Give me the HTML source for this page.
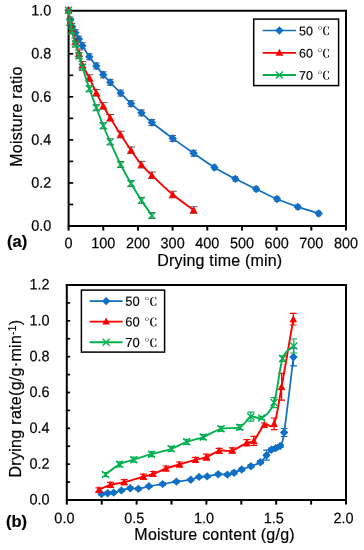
<!DOCTYPE html>
<html><head><meta charset="utf-8"><title>Drying curves</title>
<style>html,body{margin:0;padding:0;background:#fff}svg{display:block}</style>
</head><body>
<svg width="364" height="550" viewBox="0 0 364 550">
<rect width="364" height="550" fill="#fff"/>
<g stroke="#000" stroke-width="2" fill="none">
<path d="M67.60 10.70 H346.00 V230.60"/>
<path d="M68.60 9.70 V226.00 H346.00"/>
</g>
<g stroke="#000" stroke-width="1.7" fill="none">
<path d="M68.60 204.47 h4.6"/>
<path d="M68.60 182.94 h4.6"/>
<path d="M68.60 161.41 h4.6"/>
<path d="M68.60 139.88 h4.6"/>
<path d="M68.60 118.35 h4.6"/>
<path d="M68.60 96.82 h4.6"/>
<path d="M68.60 75.29 h4.6"/>
<path d="M68.60 53.76 h4.6"/>
<path d="M68.60 32.23 h4.6"/>
<path d="M68.60 226.00 v4.6" stroke-width="2"/>
<path d="M103.27 226.00 v4.6" stroke-width="2"/>
<path d="M137.95 226.00 v4.6" stroke-width="2"/>
<path d="M172.62 226.00 v4.6" stroke-width="2"/>
<path d="M207.30 226.00 v4.6" stroke-width="2"/>
<path d="M241.97 226.00 v4.6" stroke-width="2"/>
<path d="M276.65 226.00 v4.6" stroke-width="2"/>
<path d="M311.32 226.00 v4.6" stroke-width="2"/>
</g>
<g font-family="Liberation Sans, Arial, sans-serif" font-size="15.2" fill="#000" stroke="#000" stroke-width="0.2">
<text transform="translate(51.30,230.85) rotate(0.03) scale(0.950,1)" text-anchor="end">0.0</text>
<text transform="translate(51.30,187.79) rotate(0.03) scale(0.950,1)" text-anchor="end">0.2</text>
<text transform="translate(51.30,144.73) rotate(0.03) scale(0.950,1)" text-anchor="end">0.4</text>
<text transform="translate(51.30,101.67) rotate(0.03) scale(0.950,1)" text-anchor="end">0.6</text>
<text transform="translate(51.30,58.61) rotate(0.03) scale(0.950,1)" text-anchor="end">0.8</text>
<text transform="translate(51.30,15.55) rotate(0.03) scale(0.950,1)" text-anchor="end">1.0</text>
<text transform="translate(68.60,248.30) rotate(0.03) scale(0.950,1)" text-anchor="middle">0</text>
<text transform="translate(103.27,248.30) rotate(0.03) scale(0.950,1)" text-anchor="middle">100</text>
<text transform="translate(137.95,248.30) rotate(0.03) scale(0.950,1)" text-anchor="middle">200</text>
<text transform="translate(172.62,248.30) rotate(0.03) scale(0.950,1)" text-anchor="middle">300</text>
<text transform="translate(207.30,248.30) rotate(0.03) scale(0.950,1)" text-anchor="middle">400</text>
<text transform="translate(241.97,248.30) rotate(0.03) scale(0.950,1)" text-anchor="middle">500</text>
<text transform="translate(276.65,248.30) rotate(0.03) scale(0.950,1)" text-anchor="middle">600</text>
<text transform="translate(311.32,248.30) rotate(0.03) scale(0.950,1)" text-anchor="middle">700</text>
<text transform="translate(346.00,248.30) rotate(0.03) scale(0.950,1)" text-anchor="middle">800</text>
</g>
<path d="M70.24 16.98 V22.98 M66.94 16.98 H73.54 M66.94 22.98 H73.54" stroke="#484848" stroke-width="0.90" fill="none"/>
<path d="M71.97 23.43 V29.43 M68.67 23.43 H75.27 M68.67 29.43 H75.27" stroke="#484848" stroke-width="0.90" fill="none"/>
<path d="M75.45 29.66 V35.66 M72.15 29.66 H78.75 M72.15 35.66 H78.75" stroke="#484848" stroke-width="0.90" fill="none"/>
<path d="M78.92 36.11 V42.11 M75.62 36.11 H82.22 M75.62 42.11 H82.22" stroke="#484848" stroke-width="0.90" fill="none"/>
<path d="M82.40 42.78 V48.78 M79.10 42.78 H85.70 M79.10 48.78 H85.70" stroke="#484848" stroke-width="0.90" fill="none"/>
<path d="M89.35 53.74 V59.74 M86.05 53.74 H92.65 M86.05 59.74 H92.65" stroke="#484848" stroke-width="0.90" fill="none"/>
<path d="M96.30 62.99 V68.99 M93.00 62.99 H99.60 M93.00 68.99 H99.60" stroke="#484848" stroke-width="0.90" fill="none"/>
<path d="M103.25 71.80 V77.80 M99.95 71.80 H106.55 M99.95 77.80 H106.55" stroke="#484848" stroke-width="0.90" fill="none"/>
<path d="M110.20 79.33 V85.33 M106.90 79.33 H113.50 M106.90 85.33 H113.50" stroke="#484848" stroke-width="0.90" fill="none"/>
<path d="M120.62 90.08 V96.08 M117.33 90.08 H123.92 M117.33 96.08 H123.92" stroke="#484848" stroke-width="0.90" fill="none"/>
<path d="M131.05 100.61 V106.61 M127.75 100.61 H134.35 M127.75 106.61 H134.35" stroke="#484848" stroke-width="0.90" fill="none"/>
<path d="M141.47 109.86 V115.86 M138.17 109.86 H144.78 M138.17 115.86 H144.78" stroke="#484848" stroke-width="0.90" fill="none"/>
<path d="M151.90 119.53 V125.53 M148.60 119.53 H155.20 M148.60 125.53 H155.20" stroke="#484848" stroke-width="0.90" fill="none"/>
<path d="M172.75 135.44 V141.44 M169.45 135.44 H176.05 M169.45 141.44 H176.05" stroke="#484848" stroke-width="0.90" fill="none"/>
<path d="M193.60 150.28 V156.28 M190.30 150.28 H196.90 M190.30 156.28 H196.90" stroke="#484848" stroke-width="0.90" fill="none"/>
<path d="M214.45 165.16 V169.77 M211.85 165.16 H217.05 M211.85 169.77 H217.05" stroke="#484848" stroke-width="0.90" fill="none"/>
<path d="M235.30 176.56 V181.16 M232.70 176.56 H237.90 M232.70 181.16 H237.90" stroke="#484848" stroke-width="0.90" fill="none"/>
<path d="M256.15 186.66 V191.27 M253.55 186.66 H258.75 M253.55 191.27 H258.75" stroke="#484848" stroke-width="0.90" fill="none"/>
<path d="M277.00 196.77 V201.37 M274.40 196.77 H279.60 M274.40 201.37 H279.60" stroke="#484848" stroke-width="0.90" fill="none"/>
<path d="M297.85 204.60 V209.20 M295.25 204.60 H300.45 M295.25 209.20 H300.45" stroke="#484848" stroke-width="0.90" fill="none"/>
<path d="M318.70 211.18 V215.78 M316.10 211.18 H321.30 M316.10 215.78 H321.30" stroke="#484848" stroke-width="0.90" fill="none"/>
<path d="M68.50 10.30 C68.79 11.91 69.66 17.29 70.24 19.98 C70.82 22.66 71.11 24.31 71.97 26.43 C72.84 28.54 74.29 30.55 75.45 32.66 C76.61 34.77 77.77 36.92 78.92 39.11 C80.08 41.30 80.66 42.84 82.40 45.78 C84.14 48.71 87.03 53.37 89.35 56.74 C91.67 60.11 93.98 62.98 96.30 65.99 C98.62 69.00 100.93 72.08 103.25 74.80 C105.57 77.52 107.30 79.28 110.20 82.33 C113.10 85.37 117.15 89.53 120.62 93.08 C124.10 96.62 127.58 100.31 131.05 103.61 C134.53 106.91 138.00 109.70 141.47 112.86 C144.95 116.01 146.69 118.27 151.90 122.53 C157.11 126.79 165.80 133.32 172.75 138.44 C179.70 143.56 186.65 148.44 193.60 153.28 C200.55 158.11 207.50 163.20 214.45 167.47 C221.40 171.73 228.35 175.28 235.30 178.86 C242.25 182.44 249.20 185.60 256.15 188.97 C263.10 192.33 270.05 196.08 277.00 199.07 C283.95 202.06 290.90 204.50 297.85 206.90 C304.80 209.30 315.23 212.38 318.70 213.48" stroke="#0f6fc6" stroke-width="1.7" fill="none" stroke-linejoin="round"/>
<path d="M68.50 6.10 L72.70 10.30 L68.50 14.50 L64.30 10.30Z" fill="#0f6fc6"/>
<path d="M70.24 15.78 L74.44 19.98 L70.24 24.18 L66.04 19.98Z" fill="#0f6fc6"/>
<path d="M71.97 22.23 L76.17 26.43 L71.97 30.63 L67.77 26.43Z" fill="#0f6fc6"/>
<path d="M75.45 28.46 L79.65 32.66 L75.45 36.86 L71.25 32.66Z" fill="#0f6fc6"/>
<path d="M78.92 34.91 L83.12 39.11 L78.92 43.31 L74.72 39.11Z" fill="#0f6fc6"/>
<path d="M82.40 41.58 L86.60 45.78 L82.40 49.98 L78.20 45.78Z" fill="#0f6fc6"/>
<path d="M89.35 52.54 L93.55 56.74 L89.35 60.94 L85.15 56.74Z" fill="#0f6fc6"/>
<path d="M96.30 61.79 L100.50 65.99 L96.30 70.19 L92.10 65.99Z" fill="#0f6fc6"/>
<path d="M103.25 70.60 L107.45 74.80 L103.25 79.00 L99.05 74.80Z" fill="#0f6fc6"/>
<path d="M110.20 78.13 L114.40 82.33 L110.20 86.53 L106.00 82.33Z" fill="#0f6fc6"/>
<path d="M120.62 88.88 L124.83 93.08 L120.62 97.28 L116.42 93.08Z" fill="#0f6fc6"/>
<path d="M131.05 99.41 L135.25 103.61 L131.05 107.81 L126.85 103.61Z" fill="#0f6fc6"/>
<path d="M141.47 108.66 L145.67 112.86 L141.47 117.06 L137.28 112.86Z" fill="#0f6fc6"/>
<path d="M151.90 118.33 L156.10 122.53 L151.90 126.73 L147.70 122.53Z" fill="#0f6fc6"/>
<path d="M172.75 134.24 L176.95 138.44 L172.75 142.64 L168.55 138.44Z" fill="#0f6fc6"/>
<path d="M193.60 149.08 L197.80 153.28 L193.60 157.47 L189.40 153.28Z" fill="#0f6fc6"/>
<path d="M214.45 163.27 L218.65 167.47 L214.45 171.66 L210.25 167.47Z" fill="#0f6fc6"/>
<path d="M235.30 174.66 L239.50 178.86 L235.30 183.06 L231.10 178.86Z" fill="#0f6fc6"/>
<path d="M256.15 184.77 L260.35 188.97 L256.15 193.16 L251.95 188.97Z" fill="#0f6fc6"/>
<path d="M277.00 194.87 L281.20 199.07 L277.00 203.27 L272.80 199.07Z" fill="#0f6fc6"/>
<path d="M297.85 202.70 L302.05 206.90 L297.85 211.10 L293.65 206.90Z" fill="#0f6fc6"/>
<path d="M318.70 209.28 L322.90 213.48 L318.70 217.68 L314.50 213.48Z" fill="#0f6fc6"/>
<path d="M70.24 18.83 V25.43 M66.24 18.83 H74.24 M66.24 25.43 H74.24" stroke="#484848" stroke-width="0.90" fill="none"/>
<path d="M71.97 26.35 V32.95 M67.97 26.35 H75.97 M67.97 32.95 H75.97" stroke="#484848" stroke-width="0.90" fill="none"/>
<path d="M75.45 38.18 V44.78 M71.45 38.18 H79.45 M71.45 44.78 H79.45" stroke="#484848" stroke-width="0.90" fill="none"/>
<path d="M78.92 50.00 V56.60 M74.92 50.00 H82.92 M74.92 56.60 H82.92" stroke="#484848" stroke-width="0.90" fill="none"/>
<path d="M82.40 61.61 V68.21 M78.40 61.61 H86.40 M78.40 68.21 H86.40" stroke="#484848" stroke-width="0.90" fill="none"/>
<path d="M89.35 74.73 V81.33 M85.35 74.73 H93.35 M85.35 81.33 H93.35" stroke="#484848" stroke-width="0.90" fill="none"/>
<path d="M96.30 89.56 V96.16 M92.30 89.56 H100.30 M92.30 96.16 H100.30" stroke="#484848" stroke-width="0.90" fill="none"/>
<path d="M103.25 102.67 V109.27 M99.25 102.67 H107.25 M99.25 109.27 H107.25" stroke="#484848" stroke-width="0.90" fill="none"/>
<path d="M110.20 114.50 V121.10 M106.20 114.50 H114.20 M106.20 121.10 H114.20" stroke="#484848" stroke-width="0.90" fill="none"/>
<path d="M120.62 131.27 V137.87 M116.62 131.27 H124.62 M116.62 137.87 H124.62" stroke="#484848" stroke-width="0.90" fill="none"/>
<path d="M131.05 146.97 V153.57 M127.05 146.97 H135.05 M127.05 153.57 H135.05" stroke="#484848" stroke-width="0.90" fill="none"/>
<path d="M141.47 161.37 V167.97 M137.47 161.37 H145.47 M137.47 167.97 H145.47" stroke="#484848" stroke-width="0.90" fill="none"/>
<path d="M151.90 171.99 V178.59 M147.90 171.99 H155.90 M147.90 178.59 H155.90" stroke="#484848" stroke-width="0.90" fill="none"/>
<path d="M172.75 191.25 V197.86 M168.75 191.25 H176.75 M168.75 197.86 H176.75" stroke="#484848" stroke-width="0.90" fill="none"/>
<path d="M193.60 206.74 V213.34 M189.60 206.74 H197.60 M189.60 213.34 H197.60" stroke="#484848" stroke-width="0.90" fill="none"/>
<path d="M68.50 10.30 C68.79 12.27 69.66 18.90 70.24 22.13 C70.82 25.35 71.11 26.43 71.97 29.65 C72.84 32.88 74.29 37.53 75.45 41.48 C76.61 45.42 77.77 49.39 78.92 53.30 C80.08 57.21 80.66 60.79 82.40 64.91 C84.14 69.03 87.03 73.37 89.35 78.03 C91.67 82.68 93.98 88.20 96.30 92.86 C98.62 97.52 100.93 101.82 103.25 105.97 C105.57 110.13 107.30 113.03 110.20 117.80 C113.10 122.57 117.15 129.16 120.62 134.57 C124.10 139.98 127.58 145.25 131.05 150.27 C134.53 155.28 138.00 160.50 141.47 164.67 C144.95 168.84 146.69 170.31 151.90 175.29 C157.11 180.27 165.80 188.76 172.75 194.56 C179.70 200.35 190.12 207.46 193.60 210.04" stroke="#ff0000" stroke-width="1.9" fill="none" stroke-linejoin="round"/>
<path d="M68.50 6.30 L72.30 13.40 L64.70 13.40Z" fill="#ff0000"/>
<path d="M70.24 18.13 L74.04 25.23 L66.44 25.23Z" fill="#ff0000"/>
<path d="M71.97 25.65 L75.77 32.75 L68.17 32.75Z" fill="#ff0000"/>
<path d="M75.45 37.48 L79.25 44.58 L71.65 44.58Z" fill="#ff0000"/>
<path d="M78.92 49.30 L82.72 56.40 L75.12 56.40Z" fill="#ff0000"/>
<path d="M82.40 60.91 L86.20 68.01 L78.60 68.01Z" fill="#ff0000"/>
<path d="M89.35 74.03 L93.15 81.12 L85.55 81.12Z" fill="#ff0000"/>
<path d="M96.30 88.86 L100.10 95.96 L92.50 95.96Z" fill="#ff0000"/>
<path d="M103.25 101.97 L107.05 109.07 L99.45 109.07Z" fill="#ff0000"/>
<path d="M110.20 113.80 L114.00 120.90 L106.40 120.90Z" fill="#ff0000"/>
<path d="M120.62 130.57 L124.42 137.67 L116.83 137.67Z" fill="#ff0000"/>
<path d="M131.05 146.27 L134.85 153.37 L127.25 153.37Z" fill="#ff0000"/>
<path d="M141.47 160.67 L145.28 167.77 L137.67 167.77Z" fill="#ff0000"/>
<path d="M151.90 171.29 L155.70 178.39 L148.10 178.39Z" fill="#ff0000"/>
<path d="M172.75 190.56 L176.55 197.66 L168.95 197.66Z" fill="#ff0000"/>
<path d="M193.60 206.04 L197.40 213.14 L189.80 213.14Z" fill="#ff0000"/>
<path d="M70.24 19.13 V25.13 M66.94 19.13 H73.54 M66.94 25.13 H73.54" stroke="#484848" stroke-width="0.90" fill="none"/>
<path d="M71.97 27.94 V33.94 M68.67 27.94 H75.27 M68.67 33.94 H75.27" stroke="#484848" stroke-width="0.90" fill="none"/>
<path d="M75.45 41.06 V47.06 M72.15 41.06 H78.75 M72.15 47.06 H78.75" stroke="#484848" stroke-width="0.90" fill="none"/>
<path d="M78.92 52.66 V58.66 M75.62 52.66 H82.22 M75.62 58.66 H82.22" stroke="#484848" stroke-width="0.90" fill="none"/>
<path d="M82.40 64.28 V70.28 M79.10 64.28 H85.70 M79.10 70.28 H85.70" stroke="#484848" stroke-width="0.90" fill="none"/>
<path d="M89.35 85.78 V91.78 M86.05 85.78 H92.65 M86.05 91.78 H92.65" stroke="#484848" stroke-width="0.90" fill="none"/>
<path d="M96.30 104.70 V110.70 M93.00 104.70 H99.60 M93.00 110.70 H99.60" stroke="#484848" stroke-width="0.90" fill="none"/>
<path d="M103.25 122.76 V128.75 M99.95 122.76 H106.55 M99.95 128.75 H106.55" stroke="#484848" stroke-width="0.90" fill="none"/>
<path d="M110.20 138.88 V144.88 M106.90 138.88 H113.50 M106.90 144.88 H113.50" stroke="#484848" stroke-width="0.90" fill="none"/>
<path d="M120.62 161.46 V167.46 M117.33 161.46 H123.92 M117.33 167.46 H123.92" stroke="#484848" stroke-width="0.90" fill="none"/>
<path d="M131.05 180.59 V186.59 M127.75 180.59 H134.35 M127.75 186.59 H134.35" stroke="#484848" stroke-width="0.90" fill="none"/>
<path d="M141.47 197.36 V203.36 M138.17 197.36 H144.78 M138.17 203.36 H144.78" stroke="#484848" stroke-width="0.90" fill="none"/>
<path d="M151.90 212.50 V218.50 M148.60 212.50 H155.20 M148.60 218.50 H155.20" stroke="#484848" stroke-width="0.90" fill="none"/>
<path d="M68.50 10.30 C68.79 12.27 69.66 18.69 70.24 22.13 C70.82 25.57 71.11 27.29 71.97 30.94 C72.84 34.59 74.29 39.93 75.45 44.06 C76.61 48.18 77.77 51.79 78.92 55.66 C80.08 59.53 80.66 61.76 82.40 67.28 C84.14 72.79 87.03 82.04 89.35 88.78 C91.67 95.51 93.98 101.53 96.30 107.70 C98.62 113.86 100.93 120.06 103.25 125.76 C105.57 131.45 107.30 135.43 110.20 141.88 C113.10 148.33 117.15 157.50 120.62 164.46 C124.10 171.41 127.58 177.61 131.05 183.59 C134.53 189.57 138.00 195.04 141.47 200.36 C144.95 205.68 150.16 212.97 151.90 215.50" stroke="#00b050" stroke-width="1.9" fill="none" stroke-linejoin="round"/>
<path d="M65.00 6.80 L72.00 13.80 M65.00 13.80 L72.00 6.80" stroke="#00b050" stroke-width="1.35" fill="none"/>
<path d="M66.74 18.63 L73.74 25.63 M66.74 25.63 L73.74 18.63" stroke="#00b050" stroke-width="1.35" fill="none"/>
<path d="M68.47 27.44 L75.47 34.44 M68.47 34.44 L75.47 27.44" stroke="#00b050" stroke-width="1.35" fill="none"/>
<path d="M71.95 40.56 L78.95 47.56 M71.95 47.56 L78.95 40.56" stroke="#00b050" stroke-width="1.35" fill="none"/>
<path d="M75.42 52.16 L82.42 59.16 M75.42 59.16 L82.42 52.16" stroke="#00b050" stroke-width="1.35" fill="none"/>
<path d="M78.90 63.78 L85.90 70.78 M78.90 70.78 L85.90 63.78" stroke="#00b050" stroke-width="1.35" fill="none"/>
<path d="M85.85 85.28 L92.85 92.28 M85.85 92.28 L92.85 85.28" stroke="#00b050" stroke-width="1.35" fill="none"/>
<path d="M92.80 104.20 L99.80 111.20 M92.80 111.20 L99.80 104.20" stroke="#00b050" stroke-width="1.35" fill="none"/>
<path d="M99.75 122.26 L106.75 129.25 M99.75 129.25 L106.75 122.26" stroke="#00b050" stroke-width="1.35" fill="none"/>
<path d="M106.70 138.38 L113.70 145.38 M106.70 145.38 L113.70 138.38" stroke="#00b050" stroke-width="1.35" fill="none"/>
<path d="M117.12 160.96 L124.12 167.96 M117.12 167.96 L124.12 160.96" stroke="#00b050" stroke-width="1.35" fill="none"/>
<path d="M127.55 180.09 L134.55 187.09 M127.55 187.09 L134.55 180.09" stroke="#00b050" stroke-width="1.35" fill="none"/>
<path d="M137.97 196.86 L144.97 203.86 M137.97 203.86 L144.97 196.86" stroke="#00b050" stroke-width="1.35" fill="none"/>
<path d="M148.40 212.00 L155.40 219.00 M148.40 219.00 L155.40 212.00" stroke="#00b050" stroke-width="1.35" fill="none"/>
<rect x="253.70" y="19.10" width="84.90" height="66.50" fill="#fff" stroke="#000" stroke-width="1.5"/>
<path d="M262.70 30.50 H296.00" stroke="#0f6fc6" stroke-width="1.7"/>
<path d="M279.35 26.30 L283.55 30.50 L279.35 34.70 L275.15 30.50Z" fill="#0f6fc6"/>
<text transform="translate(299.00,35.20) rotate(0.03)" font-size="12.5" fill="#000" stroke="#000" stroke-width="0.15" font-family="Liberation Sans, Arial, sans-serif">50</text>
<text transform="translate(317.30,35.10) rotate(0.03) scale(1.03,0.93)" font-size="12.5" fill="#000" font-weight="600" font-family="Noto Serif CJK SC, Noto Sans CJK SC, serif">℃</text>
<path d="M262.70 52.90 H296.00" stroke="#ff0000" stroke-width="1.9"/>
<path d="M279.35 48.70 L283.15 55.80 L275.55 55.80Z" fill="#ff0000"/>
<text transform="translate(299.00,57.60) rotate(0.03)" font-size="12.5" fill="#000" stroke="#000" stroke-width="0.15" font-family="Liberation Sans, Arial, sans-serif">60</text>
<text transform="translate(317.30,57.50) rotate(0.03) scale(1.03,0.93)" font-size="12.5" fill="#000" font-weight="600" font-family="Noto Serif CJK SC, Noto Sans CJK SC, serif">℃</text>
<path d="M262.70 75.00 H296.00" stroke="#00b050" stroke-width="1.9"/>
<path d="M275.85 71.50 L282.85 78.50 M275.85 78.50 L282.85 71.50" stroke="#00b050" stroke-width="1.35" fill="none"/>
<text transform="translate(299.00,79.70) rotate(0.03)" font-size="12.5" fill="#000" stroke="#000" stroke-width="0.15" font-family="Liberation Sans, Arial, sans-serif">70</text>
<text transform="translate(317.30,79.60) rotate(0.03) scale(1.03,0.93)" font-size="12.5" fill="#000" font-weight="600" font-family="Noto Serif CJK SC, Noto Sans CJK SC, serif">℃</text>
<g font-family="Liberation Sans, Arial, sans-serif" fill="#000" stroke="#000" stroke-width="0.2">
<text x="219.8" y="266.0" font-size="16" letter-spacing="0.2" text-anchor="middle">Drying time (min)</text>
<text transform="translate(21.9,116.5) rotate(-90)" font-size="16" letter-spacing="0.26" text-anchor="middle">Moisture ratio</text>
<text x="7" y="246.5" font-size="16.5" font-weight="bold">(a)</text>
</g>
<g stroke="#000" stroke-width="2" fill="none">
<path d="M65.80 285.00 H346.00 V504.60"/>
<path d="M66.80 284.00 V500.00 H346.00"/>
</g>
<g stroke="#000" stroke-width="1.7" fill="none">
<path d="M66.80 482.08 h3.3"/>
<path d="M66.80 464.17 h3.3"/>
<path d="M66.80 446.25 h3.3"/>
<path d="M66.80 428.33 h3.3"/>
<path d="M66.80 410.42 h3.3"/>
<path d="M66.80 392.50 h3.3"/>
<path d="M66.80 374.58 h3.3"/>
<path d="M66.80 356.67 h3.3"/>
<path d="M66.80 338.75 h3.3"/>
<path d="M66.80 320.83 h3.3"/>
<path d="M66.80 302.92 h3.3"/>
<path d="M66.80 500.00 v4.6" stroke-width="2"/>
<path d="M101.70 500.00 v4.6" stroke-width="2"/>
<path d="M136.60 500.00 v4.6" stroke-width="2"/>
<path d="M171.50 500.00 v4.6" stroke-width="2"/>
<path d="M206.40 500.00 v4.6" stroke-width="2"/>
<path d="M241.30 500.00 v4.6" stroke-width="2"/>
<path d="M276.20 500.00 v4.6" stroke-width="2"/>
<path d="M311.10 500.00 v4.6" stroke-width="2"/>
</g>
<g font-family="Liberation Sans, Arial, sans-serif" font-size="15.2" fill="#000" stroke="#000" stroke-width="0.2">
<text transform="translate(49.50,504.60) rotate(0.03) scale(0.950,1)" text-anchor="end">0.0</text>
<text transform="translate(49.50,468.77) rotate(0.03) scale(0.950,1)" text-anchor="end">0.2</text>
<text transform="translate(49.50,432.93) rotate(0.03) scale(0.950,1)" text-anchor="end">0.4</text>
<text transform="translate(49.50,397.10) rotate(0.03) scale(0.950,1)" text-anchor="end">0.6</text>
<text transform="translate(49.50,361.27) rotate(0.03) scale(0.950,1)" text-anchor="end">0.8</text>
<text transform="translate(49.50,325.43) rotate(0.03) scale(0.950,1)" text-anchor="end">1.0</text>
<text transform="translate(49.50,289.60) rotate(0.03) scale(0.950,1)" text-anchor="end">1.2</text>
<text transform="translate(64.40,523.30) rotate(0.03) scale(0.950,1)" text-anchor="middle">0.0</text>
<text transform="translate(134.20,523.30) rotate(0.03) scale(0.950,1)" text-anchor="middle">0.5</text>
<text transform="translate(204.00,523.30) rotate(0.03) scale(0.950,1)" text-anchor="middle">1.0</text>
<text transform="translate(273.80,523.30) rotate(0.03) scale(0.950,1)" text-anchor="middle">1.5</text>
<text transform="translate(343.60,523.30) rotate(0.03) scale(0.950,1)" text-anchor="middle">2.0</text>
</g>
<path d="M101.60 494.00 C102.62 493.87 105.68 493.43 107.70 493.20 C109.72 492.97 111.42 493.07 113.70 492.60 C115.98 492.13 118.65 491.13 121.40 490.40 C124.15 489.67 127.37 488.47 130.20 488.20 C133.03 487.93 135.28 489.12 138.40 488.80 C141.52 488.48 144.87 487.08 148.90 486.30 C152.93 485.52 158.02 484.88 162.60 484.10 C167.18 483.32 171.70 482.33 176.40 481.60 C181.10 480.87 187.03 480.48 190.80 479.70 C194.57 478.92 196.27 477.45 199.00 476.90 C201.73 476.35 204.00 476.85 207.20 476.40 C210.40 475.95 214.83 474.50 218.20 474.20 C221.57 473.90 224.77 474.85 227.40 474.60 C230.03 474.35 231.62 473.55 234.00 472.70 C236.38 471.85 238.88 470.58 241.70 469.50 C244.52 468.42 247.78 467.42 250.90 466.20 C254.02 464.98 257.80 464.03 260.40 462.20 C263.00 460.37 264.67 457.28 266.50 455.20 C268.33 453.12 269.87 450.88 271.40 449.70 C272.93 448.52 274.23 448.72 275.70 448.10 C277.17 447.48 278.80 448.60 280.20 446.00 C281.60 443.40 281.88 447.33 284.10 432.50 C286.32 417.67 291.93 369.58 293.50 357.00" stroke="#0f6fc6" stroke-width="1.7" fill="none" stroke-linejoin="round"/>
<path d="M101.60 493.00 V495.00 M98.20 493.00 H105.00 M98.20 495.00 H105.00" stroke="#0f6fc6" stroke-width="1.20" fill="none"/>
<path d="M107.70 492.20 V494.20 M104.30 492.20 H111.10 M104.30 494.20 H111.10" stroke="#0f6fc6" stroke-width="1.20" fill="none"/>
<path d="M113.70 491.60 V493.60 M110.30 491.60 H117.10 M110.30 493.60 H117.10" stroke="#0f6fc6" stroke-width="1.20" fill="none"/>
<path d="M121.40 489.40 V491.40 M118.00 489.40 H124.80 M118.00 491.40 H124.80" stroke="#0f6fc6" stroke-width="1.20" fill="none"/>
<path d="M130.20 487.20 V489.20 M126.80 487.20 H133.60 M126.80 489.20 H133.60" stroke="#0f6fc6" stroke-width="1.20" fill="none"/>
<path d="M138.40 487.80 V489.80 M135.00 487.80 H141.80 M135.00 489.80 H141.80" stroke="#0f6fc6" stroke-width="1.20" fill="none"/>
<path d="M148.90 485.30 V487.30 M145.50 485.30 H152.30 M145.50 487.30 H152.30" stroke="#0f6fc6" stroke-width="1.20" fill="none"/>
<path d="M162.60 483.10 V485.10 M159.20 483.10 H166.00 M159.20 485.10 H166.00" stroke="#0f6fc6" stroke-width="1.20" fill="none"/>
<path d="M176.40 480.60 V482.60 M173.00 480.60 H179.80 M173.00 482.60 H179.80" stroke="#0f6fc6" stroke-width="1.20" fill="none"/>
<path d="M190.80 478.70 V480.70 M187.40 478.70 H194.20 M187.40 480.70 H194.20" stroke="#0f6fc6" stroke-width="1.20" fill="none"/>
<path d="M199.00 475.90 V477.90 M195.60 475.90 H202.40 M195.60 477.90 H202.40" stroke="#0f6fc6" stroke-width="1.20" fill="none"/>
<path d="M207.20 475.40 V477.40 M203.80 475.40 H210.60 M203.80 477.40 H210.60" stroke="#0f6fc6" stroke-width="1.20" fill="none"/>
<path d="M218.20 473.20 V475.20 M214.80 473.20 H221.60 M214.80 475.20 H221.60" stroke="#0f6fc6" stroke-width="1.20" fill="none"/>
<path d="M227.40 473.60 V475.60 M224.00 473.60 H230.80 M224.00 475.60 H230.80" stroke="#0f6fc6" stroke-width="1.20" fill="none"/>
<path d="M234.00 471.20 V474.20 M230.60 471.20 H237.40 M230.60 474.20 H237.40" stroke="#0f6fc6" stroke-width="1.20" fill="none"/>
<path d="M241.70 468.00 V471.00 M238.30 468.00 H245.10 M238.30 471.00 H245.10" stroke="#0f6fc6" stroke-width="1.20" fill="none"/>
<path d="M250.90 464.70 V467.70 M247.50 464.70 H254.30 M247.50 467.70 H254.30" stroke="#0f6fc6" stroke-width="1.20" fill="none"/>
<path d="M260.40 460.70 V463.70 M257.00 460.70 H263.80 M257.00 463.70 H263.80" stroke="#0f6fc6" stroke-width="1.20" fill="none"/>
<path d="M266.50 450.20 V460.20 M263.10 450.20 H269.90 M263.10 460.20 H269.90" stroke="#0f6fc6" stroke-width="1.20" fill="none"/>
<path d="M271.40 448.20 V451.20 M268.00 448.20 H274.80 M268.00 451.20 H274.80" stroke="#0f6fc6" stroke-width="1.20" fill="none"/>
<path d="M275.70 446.60 V449.60 M272.30 446.60 H279.10 M272.30 449.60 H279.10" stroke="#0f6fc6" stroke-width="1.20" fill="none"/>
<path d="M280.20 444.50 V447.50 M276.80 444.50 H283.60 M276.80 447.50 H283.60" stroke="#0f6fc6" stroke-width="1.20" fill="none"/>
<path d="M284.10 428.50 V436.50 M280.70 428.50 H287.50 M280.70 436.50 H287.50" stroke="#0f6fc6" stroke-width="1.20" fill="none"/>
<path d="M293.50 348.20 V365.80 M290.10 348.20 H296.90 M290.10 365.80 H296.90" stroke="#0f6fc6" stroke-width="1.20" fill="none"/>
<path d="M101.60 489.80 L105.80 494.00 L101.60 498.20 L97.40 494.00Z" fill="#0f6fc6"/>
<path d="M107.70 489.00 L111.90 493.20 L107.70 497.40 L103.50 493.20Z" fill="#0f6fc6"/>
<path d="M113.70 488.40 L117.90 492.60 L113.70 496.80 L109.50 492.60Z" fill="#0f6fc6"/>
<path d="M121.40 486.20 L125.60 490.40 L121.40 494.60 L117.20 490.40Z" fill="#0f6fc6"/>
<path d="M130.20 484.00 L134.40 488.20 L130.20 492.40 L126.00 488.20Z" fill="#0f6fc6"/>
<path d="M138.40 484.60 L142.60 488.80 L138.40 493.00 L134.20 488.80Z" fill="#0f6fc6"/>
<path d="M148.90 482.10 L153.10 486.30 L148.90 490.50 L144.70 486.30Z" fill="#0f6fc6"/>
<path d="M162.60 479.90 L166.80 484.10 L162.60 488.30 L158.40 484.10Z" fill="#0f6fc6"/>
<path d="M176.40 477.40 L180.60 481.60 L176.40 485.80 L172.20 481.60Z" fill="#0f6fc6"/>
<path d="M190.80 475.50 L195.00 479.70 L190.80 483.90 L186.60 479.70Z" fill="#0f6fc6"/>
<path d="M199.00 472.70 L203.20 476.90 L199.00 481.10 L194.80 476.90Z" fill="#0f6fc6"/>
<path d="M207.20 472.20 L211.40 476.40 L207.20 480.60 L203.00 476.40Z" fill="#0f6fc6"/>
<path d="M218.20 470.00 L222.40 474.20 L218.20 478.40 L214.00 474.20Z" fill="#0f6fc6"/>
<path d="M227.40 470.40 L231.60 474.60 L227.40 478.80 L223.20 474.60Z" fill="#0f6fc6"/>
<path d="M234.00 468.50 L238.20 472.70 L234.00 476.90 L229.80 472.70Z" fill="#0f6fc6"/>
<path d="M241.70 465.30 L245.90 469.50 L241.70 473.70 L237.50 469.50Z" fill="#0f6fc6"/>
<path d="M250.90 462.00 L255.10 466.20 L250.90 470.40 L246.70 466.20Z" fill="#0f6fc6"/>
<path d="M260.40 458.00 L264.60 462.20 L260.40 466.40 L256.20 462.20Z" fill="#0f6fc6"/>
<path d="M266.50 451.00 L270.70 455.20 L266.50 459.40 L262.30 455.20Z" fill="#0f6fc6"/>
<path d="M271.40 445.50 L275.60 449.70 L271.40 453.90 L267.20 449.70Z" fill="#0f6fc6"/>
<path d="M275.70 443.90 L279.90 448.10 L275.70 452.30 L271.50 448.10Z" fill="#0f6fc6"/>
<path d="M280.20 441.80 L284.40 446.00 L280.20 450.20 L276.00 446.00Z" fill="#0f6fc6"/>
<path d="M284.10 428.30 L288.30 432.50 L284.10 436.70 L279.90 432.50Z" fill="#0f6fc6"/>
<path d="M293.50 352.80 L297.70 357.00 L293.50 361.20 L289.30 357.00Z" fill="#0f6fc6"/>
<path d="M98.90 489.90 C100.82 489.07 106.18 486.18 110.40 484.90 C114.62 483.62 118.70 483.57 124.20 482.20 C129.70 480.83 138.60 478.07 143.40 476.70 C148.20 475.33 149.25 475.37 153.00 474.00 C156.75 472.63 161.48 470.08 165.90 468.50 C170.32 466.92 174.57 465.93 179.50 464.50 C184.43 463.07 191.00 461.13 195.50 459.90 C200.00 458.67 202.57 458.62 206.50 457.10 C210.43 455.58 214.82 451.90 219.10 450.80 C223.38 449.70 227.58 451.83 232.20 450.50 C236.82 449.17 243.20 444.42 246.80 442.80 C250.40 441.18 250.88 443.77 253.80 440.80 C256.72 437.83 260.92 427.83 264.30 425.00 C267.68 422.17 271.22 430.17 274.10 423.80 C276.98 417.43 278.40 404.23 281.60 386.80 C284.80 369.37 291.35 330.47 293.30 319.20" stroke="#ff0000" stroke-width="1.9" fill="none" stroke-linejoin="round"/>
<path d="M98.90 487.90 V491.90 M95.50 487.90 H102.30 M95.50 491.90 H102.30" stroke="#ff0000" stroke-width="1.20" fill="none"/>
<path d="M110.40 482.40 V487.40 M107.00 482.40 H113.80 M107.00 487.40 H113.80" stroke="#ff0000" stroke-width="1.20" fill="none"/>
<path d="M124.20 479.70 V484.70 M120.80 479.70 H127.60 M120.80 484.70 H127.60" stroke="#ff0000" stroke-width="1.20" fill="none"/>
<path d="M143.40 474.20 V479.20 M140.00 474.20 H146.80 M140.00 479.20 H146.80" stroke="#ff0000" stroke-width="1.20" fill="none"/>
<path d="M153.00 471.50 V476.50 M149.60 471.50 H156.40 M149.60 476.50 H156.40" stroke="#ff0000" stroke-width="1.20" fill="none"/>
<path d="M165.90 466.00 V471.00 M162.50 466.00 H169.30 M162.50 471.00 H169.30" stroke="#ff0000" stroke-width="1.20" fill="none"/>
<path d="M179.50 462.00 V467.00 M176.10 462.00 H182.90 M176.10 467.00 H182.90" stroke="#ff0000" stroke-width="1.20" fill="none"/>
<path d="M195.50 457.40 V462.40 M192.10 457.40 H198.90 M192.10 462.40 H198.90" stroke="#ff0000" stroke-width="1.20" fill="none"/>
<path d="M206.50 454.10 V460.10 M203.10 454.10 H209.90 M203.10 460.10 H209.90" stroke="#ff0000" stroke-width="1.20" fill="none"/>
<path d="M219.10 448.30 V453.30 M215.70 448.30 H222.50 M215.70 453.30 H222.50" stroke="#ff0000" stroke-width="1.20" fill="none"/>
<path d="M232.20 447.80 V453.20 M228.80 447.80 H235.60 M228.80 453.20 H235.60" stroke="#ff0000" stroke-width="1.20" fill="none"/>
<path d="M246.80 439.60 V446.00 M243.40 439.60 H250.20 M243.40 446.00 H250.20" stroke="#ff0000" stroke-width="1.20" fill="none"/>
<path d="M253.80 436.30 V445.30 M250.40 436.30 H257.20 M250.40 445.30 H257.20" stroke="#ff0000" stroke-width="1.20" fill="none"/>
<path d="M264.30 423.00 V427.00 M260.90 423.00 H267.70 M260.90 427.00 H267.70" stroke="#ff0000" stroke-width="1.20" fill="none"/>
<path d="M274.10 418.00 V429.60 M270.70 418.00 H277.50 M270.70 429.60 H277.50" stroke="#ff0000" stroke-width="1.20" fill="none"/>
<path d="M281.60 373.40 V400.20 M278.20 373.40 H285.00 M278.20 400.20 H285.00" stroke="#ff0000" stroke-width="1.20" fill="none"/>
<path d="M293.30 313.40 V325.00 M289.90 313.40 H296.70 M289.90 325.00 H296.70" stroke="#ff0000" stroke-width="1.20" fill="none"/>
<path d="M98.90 485.90 L102.70 493.00 L95.10 493.00Z" fill="#ff0000"/>
<path d="M110.40 480.90 L114.20 488.00 L106.60 488.00Z" fill="#ff0000"/>
<path d="M124.20 478.20 L128.00 485.30 L120.40 485.30Z" fill="#ff0000"/>
<path d="M143.40 472.70 L147.20 479.80 L139.60 479.80Z" fill="#ff0000"/>
<path d="M153.00 470.00 L156.80 477.10 L149.20 477.10Z" fill="#ff0000"/>
<path d="M165.90 464.50 L169.70 471.60 L162.10 471.60Z" fill="#ff0000"/>
<path d="M179.50 460.50 L183.30 467.60 L175.70 467.60Z" fill="#ff0000"/>
<path d="M195.50 455.90 L199.30 463.00 L191.70 463.00Z" fill="#ff0000"/>
<path d="M206.50 453.10 L210.30 460.20 L202.70 460.20Z" fill="#ff0000"/>
<path d="M219.10 446.80 L222.90 453.90 L215.30 453.90Z" fill="#ff0000"/>
<path d="M232.20 446.50 L236.00 453.60 L228.40 453.60Z" fill="#ff0000"/>
<path d="M246.80 438.80 L250.60 445.90 L243.00 445.90Z" fill="#ff0000"/>
<path d="M253.80 436.80 L257.60 443.90 L250.00 443.90Z" fill="#ff0000"/>
<path d="M264.30 421.00 L268.10 428.10 L260.50 428.10Z" fill="#ff0000"/>
<path d="M274.10 419.80 L277.90 426.90 L270.30 426.90Z" fill="#ff0000"/>
<path d="M281.60 382.80 L285.40 389.90 L277.80 389.90Z" fill="#ff0000"/>
<path d="M293.30 315.20 L297.10 322.30 L289.50 322.30Z" fill="#ff0000"/>
<path d="M105.50 474.50 C107.83 472.80 114.78 466.77 119.50 464.30 C124.22 461.83 128.45 461.38 133.80 459.70 C139.15 458.02 145.37 456.02 151.60 454.20 C157.83 452.38 165.35 450.87 171.20 448.80 C177.05 446.73 181.37 443.75 186.70 441.80 C192.03 439.85 197.48 439.27 203.20 437.10 C208.92 434.93 214.90 430.45 221.00 428.80 C227.10 427.15 234.83 429.22 239.80 427.20 C244.77 425.18 247.15 418.25 250.80 416.70 C254.45 415.15 257.83 420.25 261.70 417.90 C265.57 415.55 270.52 412.48 274.00 402.60 C277.48 392.72 279.30 368.03 282.60 358.60 C285.90 349.17 291.93 348.10 293.80 346.00" stroke="#00b050" stroke-width="1.9" fill="none" stroke-linejoin="round"/>
<path d="M105.50 472.50 V476.50 M102.10 472.50 H108.90 M102.10 476.50 H108.90" stroke="#00b050" stroke-width="1.20" fill="none"/>
<path d="M119.50 461.80 V466.80 M116.10 461.80 H122.90 M116.10 466.80 H122.90" stroke="#00b050" stroke-width="1.20" fill="none"/>
<path d="M133.80 457.20 V462.20 M130.40 457.20 H137.20 M130.40 462.20 H137.20" stroke="#00b050" stroke-width="1.20" fill="none"/>
<path d="M151.60 451.70 V456.70 M148.20 451.70 H155.00 M148.20 456.70 H155.00" stroke="#00b050" stroke-width="1.20" fill="none"/>
<path d="M171.20 446.30 V451.30 M167.80 446.30 H174.60 M167.80 451.30 H174.60" stroke="#00b050" stroke-width="1.20" fill="none"/>
<path d="M186.70 439.30 V444.30 M183.30 439.30 H190.10 M183.30 444.30 H190.10" stroke="#00b050" stroke-width="1.20" fill="none"/>
<path d="M203.20 434.60 V439.60 M199.80 434.60 H206.60 M199.80 439.60 H206.60" stroke="#00b050" stroke-width="1.20" fill="none"/>
<path d="M221.00 426.30 V431.30 M217.60 426.30 H224.40 M217.60 431.30 H224.40" stroke="#00b050" stroke-width="1.20" fill="none"/>
<path d="M239.80 424.70 V429.70 M236.40 424.70 H243.20 M236.40 429.70 H243.20" stroke="#00b050" stroke-width="1.20" fill="none"/>
<path d="M250.80 412.20 V421.20 M247.40 412.20 H254.20 M247.40 421.20 H254.20" stroke="#00b050" stroke-width="1.20" fill="none"/>
<path d="M261.70 416.40 V419.40 M258.30 416.40 H265.10 M258.30 419.40 H265.10" stroke="#00b050" stroke-width="1.20" fill="none"/>
<path d="M274.00 397.60 V407.60 M270.60 397.60 H277.40 M270.60 407.60 H277.40" stroke="#00b050" stroke-width="1.20" fill="none"/>
<path d="M282.60 355.80 V361.40 M279.20 355.80 H286.00 M279.20 361.40 H286.00" stroke="#00b050" stroke-width="1.20" fill="none"/>
<path d="M293.80 339.00 V353.00 M290.40 339.00 H297.20 M290.40 353.00 H297.20" stroke="#00b050" stroke-width="1.20" fill="none"/>
<path d="M102.00 471.00 L109.00 478.00 M102.00 478.00 L109.00 471.00" stroke="#00b050" stroke-width="1.35" fill="none"/>
<path d="M116.00 460.80 L123.00 467.80 M116.00 467.80 L123.00 460.80" stroke="#00b050" stroke-width="1.35" fill="none"/>
<path d="M130.30 456.20 L137.30 463.20 M130.30 463.20 L137.30 456.20" stroke="#00b050" stroke-width="1.35" fill="none"/>
<path d="M148.10 450.70 L155.10 457.70 M148.10 457.70 L155.10 450.70" stroke="#00b050" stroke-width="1.35" fill="none"/>
<path d="M167.70 445.30 L174.70 452.30 M167.70 452.30 L174.70 445.30" stroke="#00b050" stroke-width="1.35" fill="none"/>
<path d="M183.20 438.30 L190.20 445.30 M183.20 445.30 L190.20 438.30" stroke="#00b050" stroke-width="1.35" fill="none"/>
<path d="M199.70 433.60 L206.70 440.60 M199.70 440.60 L206.70 433.60" stroke="#00b050" stroke-width="1.35" fill="none"/>
<path d="M217.50 425.30 L224.50 432.30 M217.50 432.30 L224.50 425.30" stroke="#00b050" stroke-width="1.35" fill="none"/>
<path d="M236.30 423.70 L243.30 430.70 M236.30 430.70 L243.30 423.70" stroke="#00b050" stroke-width="1.35" fill="none"/>
<path d="M247.30 413.20 L254.30 420.20 M247.30 420.20 L254.30 413.20" stroke="#00b050" stroke-width="1.35" fill="none"/>
<path d="M258.20 414.40 L265.20 421.40 M258.20 421.40 L265.20 414.40" stroke="#00b050" stroke-width="1.35" fill="none"/>
<path d="M270.50 399.10 L277.50 406.10 M270.50 406.10 L277.50 399.10" stroke="#00b050" stroke-width="1.35" fill="none"/>
<path d="M279.10 355.10 L286.10 362.10 M279.10 362.10 L286.10 355.10" stroke="#00b050" stroke-width="1.35" fill="none"/>
<path d="M290.30 342.50 L297.30 349.50 M290.30 349.50 L297.30 342.50" stroke="#00b050" stroke-width="1.35" fill="none"/>
<rect x="81.40" y="290.10" width="83.20" height="62.00" fill="#fff" stroke="#000" stroke-width="1.5"/>
<path d="M89.70 301.10 H122.60" stroke="#0f6fc6" stroke-width="1.7"/>
<path d="M106.15 296.90 L110.35 301.10 L106.15 305.30 L101.95 301.10Z" fill="#0f6fc6"/>
<text transform="translate(125.30,305.80) rotate(0.03)" font-size="13" fill="#000" stroke="#000" stroke-width="0.15" font-family="Liberation Sans, Arial, sans-serif">50</text>
<text transform="translate(144.10,305.70) rotate(0.03) scale(1.09,0.93)" font-size="12.5" fill="#000" font-weight="600" font-family="Noto Serif CJK SC, Noto Sans CJK SC, serif">℃</text>
<path d="M89.70 321.60 H122.60" stroke="#ff0000" stroke-width="1.9"/>
<path d="M106.15 317.40 L109.95 324.50 L102.35 324.50Z" fill="#ff0000"/>
<text transform="translate(125.30,326.30) rotate(0.03)" font-size="13" fill="#000" stroke="#000" stroke-width="0.15" font-family="Liberation Sans, Arial, sans-serif">60</text>
<text transform="translate(144.10,326.20) rotate(0.03) scale(1.09,0.93)" font-size="12.5" fill="#000" font-weight="600" font-family="Noto Serif CJK SC, Noto Sans CJK SC, serif">℃</text>
<path d="M89.70 342.30 H122.60" stroke="#00b050" stroke-width="1.9"/>
<path d="M102.65 338.80 L109.65 345.80 M102.65 345.80 L109.65 338.80" stroke="#00b050" stroke-width="1.35" fill="none"/>
<text transform="translate(125.30,347.00) rotate(0.03)" font-size="13" fill="#000" stroke="#000" stroke-width="0.15" font-family="Liberation Sans, Arial, sans-serif">70</text>
<text transform="translate(144.10,346.90) rotate(0.03) scale(1.09,0.93)" font-size="12.5" fill="#000" font-weight="600" font-family="Noto Serif CJK SC, Noto Sans CJK SC, serif">℃</text>
<g font-family="Liberation Sans, Arial, sans-serif" fill="#000" stroke="#000" stroke-width="0.2">
<text x="214.6" y="540.3" font-size="16" letter-spacing="0.22" text-anchor="middle">Moisture content (g/g)</text>
<text transform="translate(21.3,398.5) rotate(-90)" font-size="16" letter-spacing="0.3" text-anchor="middle">Drying rate(g/g·min<tspan font-size="10.3" dy="-5.8">-1</tspan><tspan dy="5.8">)</tspan></text>
<text x="6" y="527.2" font-size="16.5" font-weight="bold">(b)</text>
</g>
</svg>
</body></html>
